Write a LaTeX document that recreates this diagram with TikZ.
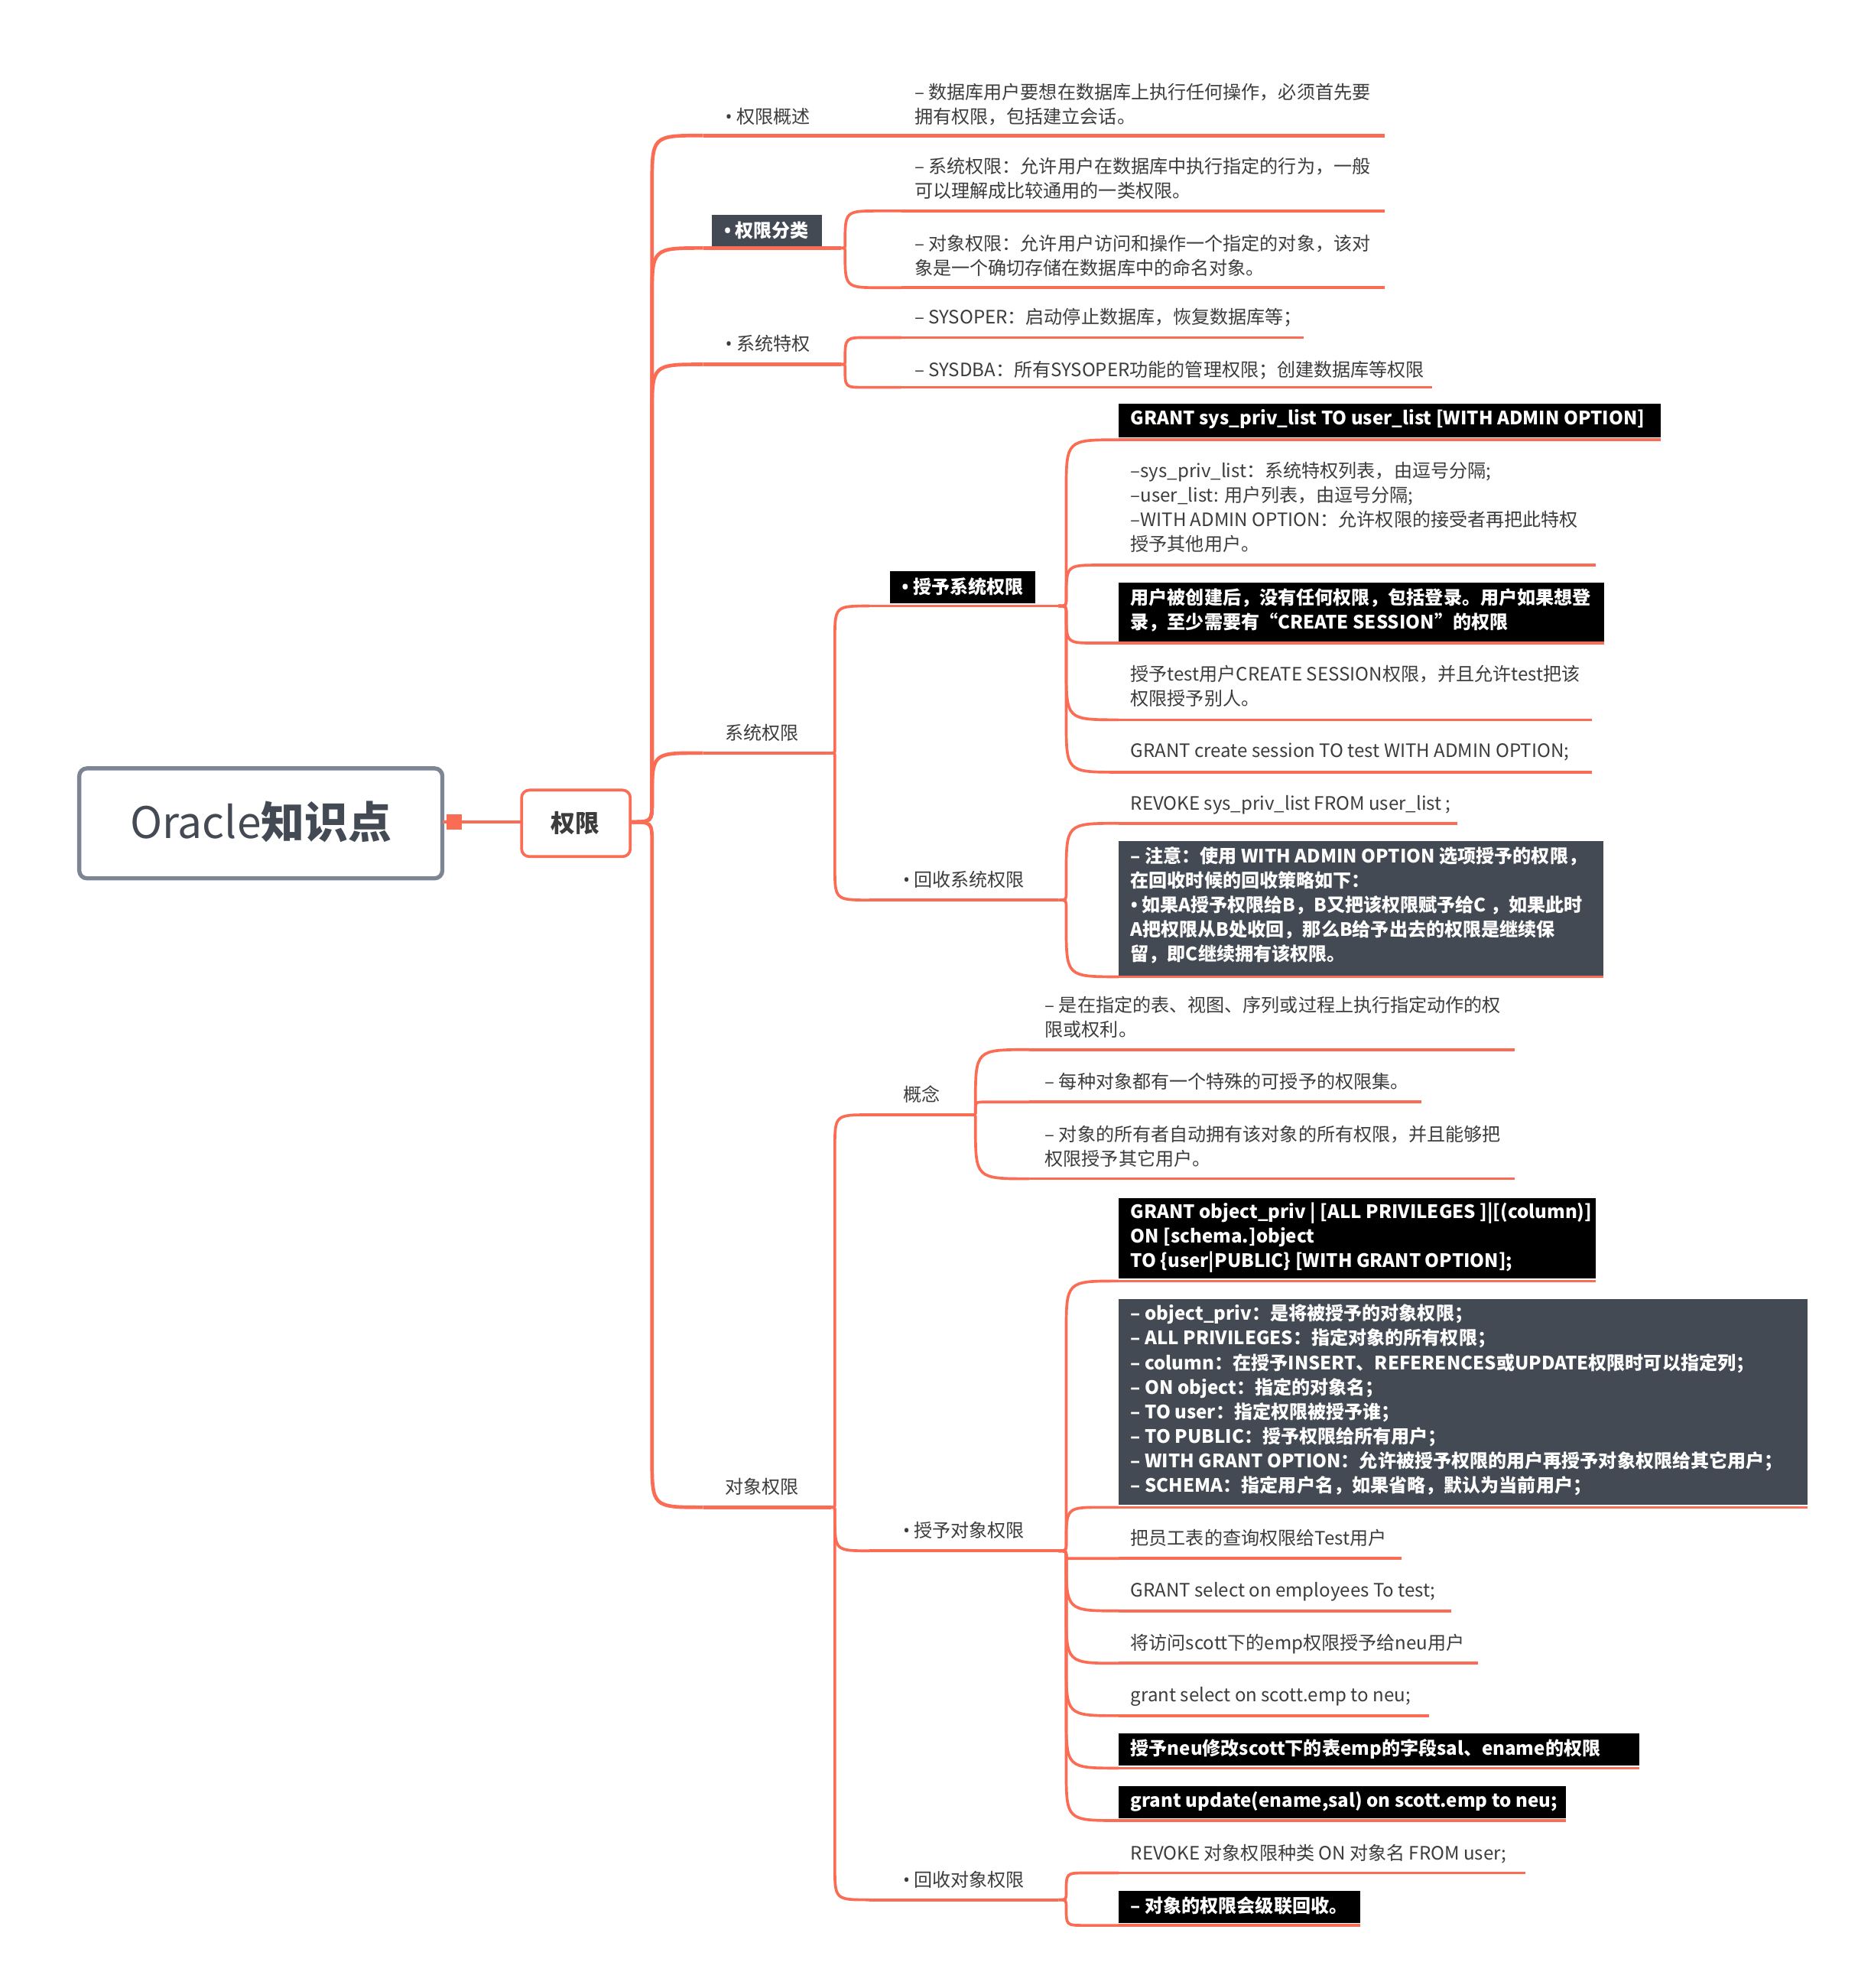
\documentclass[tikz,border=0pt]{standalone}
\usepackage{fontspec}
\setmainfont{Noto Sans CJK SC}
\newfontfamily\lat{Open Sans}
\newcommand\bul{{\lat •}}
\usetikzlibrary{calc}
\definecolor{brc}{RGB}{250,108,84}
\definecolor{tx}{RGB}{60,60,60}
\definecolor{dk}{RGB}{67,74,84}
\definecolor{rb}{RGB}{125,133,148}
\tikzset{x=0.5pt,y=-0.5pt,
 br/.style={draw=brc,line width=1.1pt},
 br1/.style={draw=brc,line width=1.4pt},
 t/.style={anchor=north west,inner sep=0pt,text=tx,align=left,font=\fontsize{7.2}{9.6}\selectfont},
 tw/.style={t,text=white,font=\fontsize{7.2}{9.6}\selectfont\bfseries},
 lab/.style={anchor=west,inner sep=0pt,text=tx,font=\fontsize{7.2}{9}\selectfont},
}
\newcommand\conn[4][br]{\draw[#1] let \p1=(#2),\p2=(#3),\n3={min(#4,abs(\y2-\y1)/2)},\n1={min(\x2-\x1-#4,abs(\y2-\y1)-\n3)},\n2={sign(\y2-\y1)} in (\p1) .. controls ({\x1+#4},\y1) .. ({\x1+#4},{\y1+\n2*\n3}) -- ({\x1+#4},{\y2-\n2*\n1}) .. controls ({\x1+#4},\y2) .. ({\x1+#4+\n1},\y2) -- (\p2);}
\begin{document}
\begin{tikzpicture}
\useasboundingbox (0,0) rectangle (1463,1555);
% root
\draw[rb,line width=1.6pt,rounded corners=3pt,fill=white] (62,601) rectangle (346,687);
\node[inner sep=0pt,text=dk,font=\fontsize{17}{20}\selectfont] (root) at (204,643) {Oracle\textbf{知识点}};
\coordinate (rootE) at (346,643);
\coordinate (qxW) at (408,643);
\draw[br1] (rootE) -- (qxW);
\fill[fill=brc] (349,637) rectangle (361,649);
\draw[draw=brc,line width=1.1pt,rounded corners=3pt,fill=white] (408,618) rectangle (493,670);
\node[inner sep=0pt,text=tx,font=\fontsize{9.5}{11}\selectfont\bfseries] (qx) at (450,644) {权限};
\coordinate (qxE) at (493,643);
% level 1
\coordinate (a1) at (550,106); \coordinate (a2) at (550,194); \coordinate (a3) at (550,285);
\coordinate (a4) at (550,589); \coordinate (a5) at (550,1179);
\foreach \c in {a1,a2,a3,a4,a5}{\conn[br1]{qxE}{\c}{8.5pt}}
\node[lab] (gs) at (567,91) {\bul\ 权限概述};
\draw[br1] (a1) -- (1083,106);
\node[t] (gsT) at (715,65) {– 数据库用户要想在数据库上执行任何操作，必须首先要\\拥有权限，包括建立会话。};
\fill[dk] (557,168) rectangle (643,193);
\node[lab,text=white,font=\fontsize{7.2}{9}\selectfont\bfseries] (fl) at (566,180) {\bul\ 权限分类};
\draw[br1] (a2) -- (658,194); \coordinate (fle) at (658,194);
\node[lab] (tq) at (567,269) {\bul\ 系统特权};
\draw[br1] (a3) -- (658,285); \coordinate (tqe) at (658,285);
\node[lab] (xt) at (567,573) {系统权限};
\draw[br1] (a4) -- (650,589); \coordinate (xte) at (650,589);
\node[lab] (dx) at (567,1163) {对象权限};
\draw[br1] (a5) -- (650,1179); \coordinate (dxe) at (650,1179);
% 权限分类 children
\coordinate (b1) at (705,165); \coordinate (b2) at (705,225);
\conn{fle}{b1}{1.5pt}\conn{fle}{b2}{1.5pt}
\draw[br] (b1) -- (1083,165); \draw[br] (b2) -- (1083,225);
\node[t] (b1t) at (715,123) {– 系统权限：允许用户在数据库中执行指定的行为，一般\\可以理解成比较通用的一类权限。};
\node[t] (b2t) at (715,183) {– 对象权限：允许用户访问和操作一个指定的对象，该对\\象是一个确切存储在数据库中的命名对象。};
% 系统特权 children
\coordinate (c1) at (705,264); \coordinate (c2) at (705,303);
\conn{tqe}{c1}{1.5pt}\conn{tqe}{c2}{1.5pt}
\draw[br] (c1) -- (1020,264); \draw[br] (c2) -- (1120,303);
\node[t] (c1t) at (715,241) {– SYSOPER：启动停止数据库，恢复数据库等；};
\node[t] (c2t) at (715,282) {– SYSDBA：所有SYSOPER功能的管理权限；创建数据库等权限};
% 系统权限 children
\coordinate (d1) at (680,474); \coordinate (d2) at (680,704);
\conn{xte}{d1}{1.5pt}\conn{xte}{d2}{1.5pt}
\draw[br] (d1) -- (828,474); \draw[br] (d2) -- (828,704);
\coordinate (d1e) at (828,474); \coordinate (d2e) at (828,704);
\fill[black] (696,447) rectangle (810,472);
\node[lab,text=white,font=\fontsize{7.2}{9}\selectfont\bfseries] (sx) at (705,459) {\bul\ 授予系统权限};
\node[lab] (hx) at (706,688) {\bul\ 回收系统权限};
% 授予系统权限 leaves
\coordinate (e1) at (875,344); \coordinate (e2) at (875,442); \coordinate (e3) at (875,503);
\coordinate (e4) at (875,563); \coordinate (e5) at (875,604);
\foreach \c in {e1,e2,e3,e4,e5}{\conn{d1e}{\c}{3pt}}
\draw[br] (e1) -- (1299,344); \draw[br] (e2) -- (1248,442); \draw[br] (e3) -- (1255,503);
\draw[br] (e4) -- (1245,563); \draw[br] (e5) -- (1245,604);
\fill[black] (875,316) rectangle (1299,342);
\node[tw] (e1t) at (884,320) {GRANT sys\_priv\_list TO user\_list [WITH ADMIN OPTION]};
\node[t] (e2t) at (884,361) {–sys\_priv\_list：系统特权列表，由逗号分隔;\\–user\_list: 用户列表，由逗号分隔;\\–WITH ADMIN OPTION：允许权限的接受者再把此特权\\授予其他用户。};
\fill[black] (875,456) rectangle (1255,502);
\node[tw] (e3t) at (884,460) {用户被创建后，没有任何权限，包括登录。用户如果想登\\录，至少需要有“CREATE SESSION”的权限};
\node[t] (e4t) at (884,520) {授予test用户CREATE SESSION权限，并且允许test把该\\权限授予别人。};
\node[t] (e5t) at (884,581) {GRANT create session TO test WITH ADMIN OPTION;};
% 回收系统权限 leaves
\coordinate (f1) at (875,644); \coordinate (f2) at (875,764);
\conn{d2e}{f1}{3pt}\conn{d2e}{f2}{3pt}
\draw[br] (f1) -- (1140,644); \draw[br] (f2) -- (1254,764);
\node[t] (f1t) at (884,622) {REVOKE sys\_priv\_list FROM user\_list ;};
\fill[dk] (875,658) rectangle (1254,763);
\node[tw] (f2t) at (884,662) {– 注意：使用 WITH ADMIN OPTION 选项授予的权限，\\在回收时候的回收策略如下：\\\bul\ 如果A授予权限给B，B又把该权限赋予给C ，如果此时\\A把权限从B处收回，那么B给予出去的权限是继续保\\留，即C继续拥有该权限。};
% 对象权限 children
\coordinate (g1) at (680,872); \coordinate (g2) at (680,1213); \coordinate (g3) at (680,1486);
\foreach \c in {g1,g2,g3}{\conn{dxe}{\c}{1.5pt}}
\draw[br] (g1) -- (760,872); \draw[br] (g2) -- (828,1213); \draw[br] (g3) -- (828,1486);
\coordinate (g1e) at (760,872); \coordinate (g2e) at (828,1213); \coordinate (g3e) at (828,1486);
\node[lab] (gn) at (706,856) {概念};
\node[lab] (sd) at (706,1197) {\bul\ 授予对象权限};
\node[lab] (hd) at (706,1470) {\bul\ 回收对象权限};
% 概念 leaves
\coordinate (h1) at (805,821); \coordinate (h2) at (805,862); \coordinate (h3) at (805,922);
\foreach \c in {h1,h2,h3}{\conn{g1e}{\c}{1.5pt}}
\draw[br] (h1) -- (1185,821); \draw[br] (h2) -- (1112,862); \draw[br] (h3) -- (1185,922);
\node[t] (h1t) at (817,779) {– 是在指定的表、视图、序列或过程上执行指定动作的权\\限或权利。};
\node[t] (h2t) at (817,839) {– 每种对象都有一个特殊的可授予的权限集。};
\node[t] (h3t) at (817,880) {– 对象的所有者自动拥有该对象的所有权限，并且能够把\\权限授予其它用户。};
% 授予对象权限 leaves
\coordinate (i1) at (875,1002); \coordinate (i2) at (875,1179); \coordinate (i3) at (875,1219);
\coordinate (i4) at (875,1260); \coordinate (i5) at (875,1301); \coordinate (i6) at (875,1342);
\coordinate (i7) at (875,1383); \coordinate (i8) at (875,1424);
\foreach \c in {i1,i2,i3,i4,i5,i6,i7,i8}{\conn{g2e}{\c}{3pt}}
\draw[br] (i1) -- (1248,1002); \draw[br] (i2) -- (1414,1179); \draw[br] (i3) -- (1096,1219);
\draw[br] (i4) -- (1135,1260); \draw[br] (i5) -- (1156,1301); \draw[br] (i6) -- (1118,1342);
\draw[br] (i7) -- (1282,1383); \draw[br] (i8) -- (1225,1424);
\fill[black] (875,937) rectangle (1248,1000);
\node[tw] (i1t) at (884,940) {GRANT object\_priv | [ALL PRIVILEGES ]|[(column)]\\ON [schema.]object\\TO \{user|PUBLIC\} [WITH GRANT OPTION];};
\fill[dk] (875,1016) rectangle (1414,1177);
\node[tw] (i2t) at (884,1020) {– object\_priv：是将被授予的对象权限；\\– ALL PRIVILEGES：指定对象的所有权限；\\– column：在授予INSERT、REFERENCES或UPDATE权限时可以指定列；\\– ON object：指定的对象名；\\– TO user：指定权限被授予谁；\\– TO PUBLIC：授予权限给所有用户；\\– WITH GRANT OPTION：允许被授予权限的用户再授予对象权限给其它用户；\\– SCHEMA：指定用户名，如果省略，默认为当前用户；};
\node[t] (i3t) at (884,1196) {把员工表的查询权限给Test用户};
\node[t] (i4t) at (884,1237) {GRANT select on employees To test;};
\node[t] (i5t) at (884,1278) {将访问scott下的emp权限授予给neu用户};
\node[t] (i6t) at (884,1319) {grant select on scott.emp to neu;};
\fill[black] (875,1356) rectangle (1282,1381);
\node[tw] (i7t) at (884,1360) {授予neu修改scott下的表emp的字段sal、ename的权限};
\fill[black] (875,1397) rectangle (1225,1422);
\node[tw] (i8t) at (884,1401) {grant update(ename,sal) on scott.emp to neu;};
% 回收对象权限 leaves
\coordinate (j1) at (875,1465); \coordinate (j2) at (875,1506);
\conn{g3e}{j1}{3pt}\conn{g3e}{j2}{3pt}
\draw[br] (j1) -- (1193,1465); \draw[br] (j2) -- (1064,1506);
\node[t] (j1t) at (884,1442) {REVOKE 对象权限种类 ON 对象名 FROM user;};
\fill[black] (875,1479) rectangle (1064,1504);
\node[tw] (j2t) at (884,1483) {– 对象的权限会级联回收。};
\end{tikzpicture}
\end{document}
